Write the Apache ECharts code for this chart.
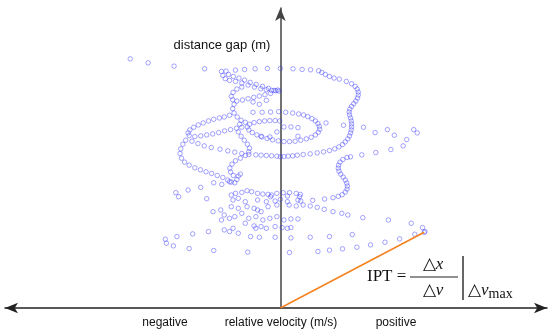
<!DOCTYPE html>
<html><head><meta charset="utf-8">
<script src="https://cdn.jsdelivr.net/npm/echarts@6/dist/echarts.min.js"></script>
<style>html,body{margin:0;padding:0;background:#fff}#c{width:550px;height:333px}</style>
</head><body><div id="c"></div>
<script>
// relative velocity (arbitrary m/s scale), distance gap (m)
const topRow = [[-4.28,75.0],[-3.77,73.8],[-3.03,72.8],[-2.16,72.0],[-1.28,71.6],[-1.02,71.8],[-0.72,72.0],[-0.37,72.1],[0,72.1],[0.36,72.0],[0.62,71.8],[0.86,71.7],[1.09,71.4]];
const rightArc = [[1.18,70.9],[1.28,70.3],[1.40,69.7],[1.53,69.2],[1.68,68.9],[1.88,68.2],[2.03,67.5],[2.13,66.7],[2.19,65.9],[2.22,65.0],[2.22,64.1],[2.20,63.2],[2.15,62.3],[2.09,61.5],[2.03,60.7],[1.98,59.9],[1.96,59.0],[1.97,58.1],[2.00,57.2],[2.02,56.3],[2.03,55.4],[2.03,54.5],[2.02,53.6],[2.00,52.7],[1.97,51.8],[1.92,50.9],[1.85,50.0],[1.77,49.2],[1.67,48.5],[1.55,47.9],[1.40,47.4],[1.23,47.0],[1.05,46.7],[0.85,46.4],[0.65,46.2],[0.48,46.0],[0.35,45.8],[0.22,45.7],[0.10,45.6],[0,45.5],[-0.10,45.7],[-0.25,45.8],[-0.40,45.9],[-0.55,46.0],[-0.70,46.1]];
const middleRing = [[-0.78,58.9],[-0.52,58.9],[-0.28,59.0],[-0.05,59.1],[0.15,58.9],[0.35,58.7],[0.52,58.4],[0.66,58.1],[0.78,57.6],[0.90,57.0],[1.00,56.3],[1.07,55.5],[1.11,54.7],[1.12,53.8],[1.08,52.9],[1.00,52.1],[0.88,51.4],[0.74,50.9],[0.58,50.5],[0.42,50.2],[0.26,50.1],[0.10,50.1],[-0.06,50.3],[-0.22,50.6],[-0.38,51.0],[-0.53,51.5],[-0.67,52.1],[-0.80,52.8],[-0.90,53.6],[-0.94,54.5],[-0.88,55.3],[-0.75,55.8],[-0.60,56.1],[-0.45,56.3],[-0.30,56.4],[-0.15,56.4],[-0.02,56.3],[0.10,54.5],[0.30,54.5],[0.50,54.3],[-0.30,51.5],[-0.55,51.7],[-0.10,53.0],[0.50,51.7]];
const rightScatter = [[1.30,55.7],[1.80,55.0],[2.37,54.4],[2.70,52.8],[3.05,53.7],[3.25,52.0],[3.80,53.7],[3.90,52.7],[3.60,50.7],[3.50,48.8],[3.15,47.7],[2.72,46.8],[2.32,46.1],[2.00,45.5]];
const rightWiggle = [[1.90,45.3],[1.78,44.7],[1.70,43.9],[1.66,43.0],[1.65,42.1],[1.67,41.2],[1.72,40.3],[1.79,39.4],[1.85,38.5],[1.89,37.6],[1.91,36.7],[1.90,35.8],[1.85,34.9],[1.76,34.1],[1.65,33.6],[1.50,33.2],[1.26,32.8],[0.92,32.4],[0.58,32.2]];
const leftLoopUpper = [[-1.45,58.0],[-1.60,57.5],[-1.74,57.2],[-1.90,56.8],[-2.05,56.3],[-2.20,55.7],[-2.34,55.1],[-2.47,54.4],[-2.58,53.6],[-2.63,52.7],[-2.60,51.9],[-2.44,51.6],[-2.27,51.8],[-2.10,52.1],[-1.93,52.4],[-1.76,52.8],[-1.59,53.3],[-1.42,53.7],[-1.25,54.1],[-1.10,54.4]];
const leftLoopLower = [[-2.70,50.5],[-2.78,49.3],[-2.84,47.9],[-2.86,46.5],[-2.82,45.1],[-2.73,43.9],[-2.60,43.0],[-2.44,42.2],[-2.28,41.6],[-2.12,41.0],[-1.96,40.5],[-1.80,39.9],[-1.64,39.3],[-1.50,38.5],[-1.40,37.9],[-1.30,37.7],[-2.52,50.2],[-2.35,49.5],[-2.17,48.8],[-1.97,48.3],[-1.72,47.8],[-1.50,47.3],[-1.30,46.9],[-1.10,46.5],[-0.90,46.2]];
const leftColumn = [[-1.68,71.2],[-1.64,70.0],[-1.57,69.0],[-1.45,68.5],[-1.28,68.2],[-1.10,67.7],[-0.92,67.1],[-0.74,66.5],[-0.56,66.0],[-0.40,65.7],[-0.25,65.5],[-0.13,65.4],[-0.04,65.3],[-1.55,71.3],[-1.48,70.3],[-1.34,69.7],[-1.18,69.2],[-1.02,68.6],[-0.86,67.9],[-0.69,67.3],[-0.51,66.7],[-0.34,66.1],[-0.18,65.5],[-0.08,65.6],[-1.10,66.5],[-1.24,65.9],[-1.35,64.9],[-1.40,63.7],[-1.36,62.7],[-1.24,62.3],[-1.08,62.6],[-0.92,63.0],[-0.76,63.4],[-0.60,63.8],[-0.44,64.2],[-0.28,64.6],[-0.60,61.3],[-0.78,62.0],[-0.40,62.5],[-1.32,61.3],[-1.36,60.0],[-1.32,58.7],[-1.23,57.5],[-1.12,56.5],[-1.00,55.9],[-1.16,55.3],[-1.20,53.0],[-1.12,51.7],[-1.03,50.5],[-0.94,49.3],[-0.88,48.1],[-0.90,47.0],[-1.00,45.9],[-1.14,45.1],[-1.28,44.3],[-1.38,43.3],[-1.44,42.1],[-1.42,40.9],[-1.34,39.9],[-1.20,39.7],[-1.14,40.3],[-1.24,38.7],[-1.45,38.0]];
const lowerCluster = [[-1.40,34.0],[-1.28,34.5],[-1.10,34.8],[-0.95,35.3],[-0.82,35.0],[-0.65,34.5],[-0.50,34.3],[-0.35,34.2],[-0.25,34.0],[-0.28,33.5],[-0.10,34.5],[0.08,34.7],[0.26,34.7],[0.45,34.5],[0.57,34.2],[0.55,33.5],[0.20,33.7],[0.00,32.7],[-2.98,34.7],[-2.90,33.5],[-2.63,35.5],[-2.27,36.3],[-2.10,32.9],[-1.90,37.7],[-1.67,37.2],[-1.35,32.5],[-1.20,33.0],[-1.00,32.0],[-0.65,32.5],[-0.40,32.0],[-0.15,32.2],[0.20,32.0],[0.50,32.5],[-1.40,30.5],[-1.20,30.0],[-0.95,30.5],[-0.75,30.0],[-0.65,29.5],[-0.55,29.0],[-0.35,30.5],[-0.10,31.0],[0.25,31.0],[0.45,30.7],[0.65,31.0],[0.85,30.7],[1.05,30.3],[1.25,29.7],[1.50,29.0],[1.75,28.5],[1.92,28.0],[2.35,27.2],[3.08,26.5],[3.73,25.5],[4.05,24.2],[4.12,23.0],[-1.92,29.0],[-1.70,29.5],[-1.60,28.0],[-1.45,27.0],[-1.68,26.5],[-1.30,27.5],[-1.10,28.5],[-0.90,27.0],[-0.70,27.5],[-0.50,26.5],[-0.30,27.0],[-0.10,27.5],[0.10,26.5],[0.30,26.8],[0.50,26.8],[-1.60,23.5],[-1.45,23.0],[-1.35,24.0],[-1.20,22.5],[-1.00,25.5],[-0.75,24.7],[-0.70,24.0],[-0.55,24.5],[-0.40,24.0],[-0.15,24.5],[0.05,24.2],[0.20,24.0],[0.30,24.2]];
const bottomRows = [[-2.05,23.0],[-2.50,22.3],[-2.95,21.5],[-0.85,21.5],[-0.60,21.3],[-0.15,21.3],[0.30,21.1],[0.85,21.3],[1.40,21.5],[2.05,22.1],[-3.28,20.7],[-3.25,19.5],[-3.05,18.7],[-2.60,17.9],[-1.90,17.3],[-0.93,16.8],[0.26,16.7],[1.07,17.0],[1.40,17.4],[1.77,17.8],[2.18,18.3],[2.57,19.0],[2.98,19.8],[3.40,20.8],[3.83,22.2],[4.10,22.8]];
const iptLine = [[0,0],[4.10,22.8]];
const xRange = [-7.85, 7.6];
const yRange = [0, 90.3];

const allPoints = [].concat(topRow, rightArc, middleRing, rightScatter, rightWiggle, leftLoopUpper, leftLoopLower, leftColumn, lowerCluster, bottomRows);

const chart = echarts.init(document.getElementById('c'), null, {renderer:'canvas'});
const serif = '"Liberation Serif","Times New Roman",serif';
const sans = '"Liberation Sans",Arial,sans-serif';
chart.setOption({
  animation:false,
  backgroundColor:'#fff',
  grid:{left:5,right:3,top:8,bottom:25},
  xAxis:{type:'value',min:xRange[0],max:xRange[1],
    axisLine:{onZero:true,symbol:['arrow','arrow'],symbolSize:[8,13],lineStyle:{color:'#222',width:1.5}},
    axisTick:{show:false},axisLabel:{show:false},splitLine:{show:false}},
  yAxis:{type:'value',min:yRange[0],max:yRange[1],
    axisLine:{onZero:true,symbol:['none','arrow'],symbolSize:[8,13],lineStyle:{color:'#444',width:1.5}},
    axisTick:{show:false},axisLabel:{show:false},splitLine:{show:false}},
  series:[
    {type:'scatter',data:allPoints,symbol:'circle',symbolSize:4.5,
      itemStyle:{color:'rgba(0,0,0,0)',borderColor:'#3030ff',borderWidth:0.8,opacity:0.55},z:2},
    {type:'line',data:iptLine,symbol:'none',lineStyle:{color:'#f5821f',width:1.5},z:3}
  ],
  graphic:[
    {type:'text',style:{text:'distance gap (m)',x:222,y:45,align:'center',verticalAlign:'middle',font:'13px '+sans,fill:'#111'}},
    {type:'text',style:{text:'negative',x:165,y:323,align:'center',verticalAlign:'middle',font:'12px '+sans,fill:'#111'}},
    {type:'text',style:{text:'relative velocity (m/s)',x:281,y:323,align:'center',verticalAlign:'middle',font:'12px '+sans,fill:'#111'}},
    {type:'text',style:{text:'positive',x:396,y:323,align:'center',verticalAlign:'middle',font:'12px '+sans,fill:'#111'}},
    {type:'text',style:{text:'IPT =',x:367,y:277,align:'left',verticalAlign:'middle',font:'17px '+serif,fill:'#111'}},
    {type:'text',style:{text:'{t|△}{i|x}',x:433,y:265,align:'center',verticalAlign:'middle',
      rich:{t:{font:'17px '+serif,fill:'#111'},i:{font:'italic 17px '+serif,fill:'#111'}}}},
    {type:'line',shape:{x1:410,y1:277,x2:458,y2:277},style:{stroke:'#222',lineWidth:1}},
    {type:'text',style:{text:'{t|△}{i|v}',x:433,y:291,align:'center',verticalAlign:'middle',
      rich:{t:{font:'17px '+serif,fill:'#111'},i:{font:'italic 17px '+serif,fill:'#111'}}}},
    {type:'line',shape:{x1:463,y1:256,x2:463,y2:300},style:{stroke:'#333',lineWidth:1.5}},
    {type:'text',style:{text:'{t|△}{i|v}{s|max}',x:468,y:291,align:'left',verticalAlign:'middle',
      rich:{t:{font:'17px '+serif,fill:'#111'},i:{font:'italic 17px '+serif,fill:'#111'},s:{font:'14px '+serif,fill:'#111',padding:[6,0,0,0]}}}}
  ]
});
</script></body></html>
